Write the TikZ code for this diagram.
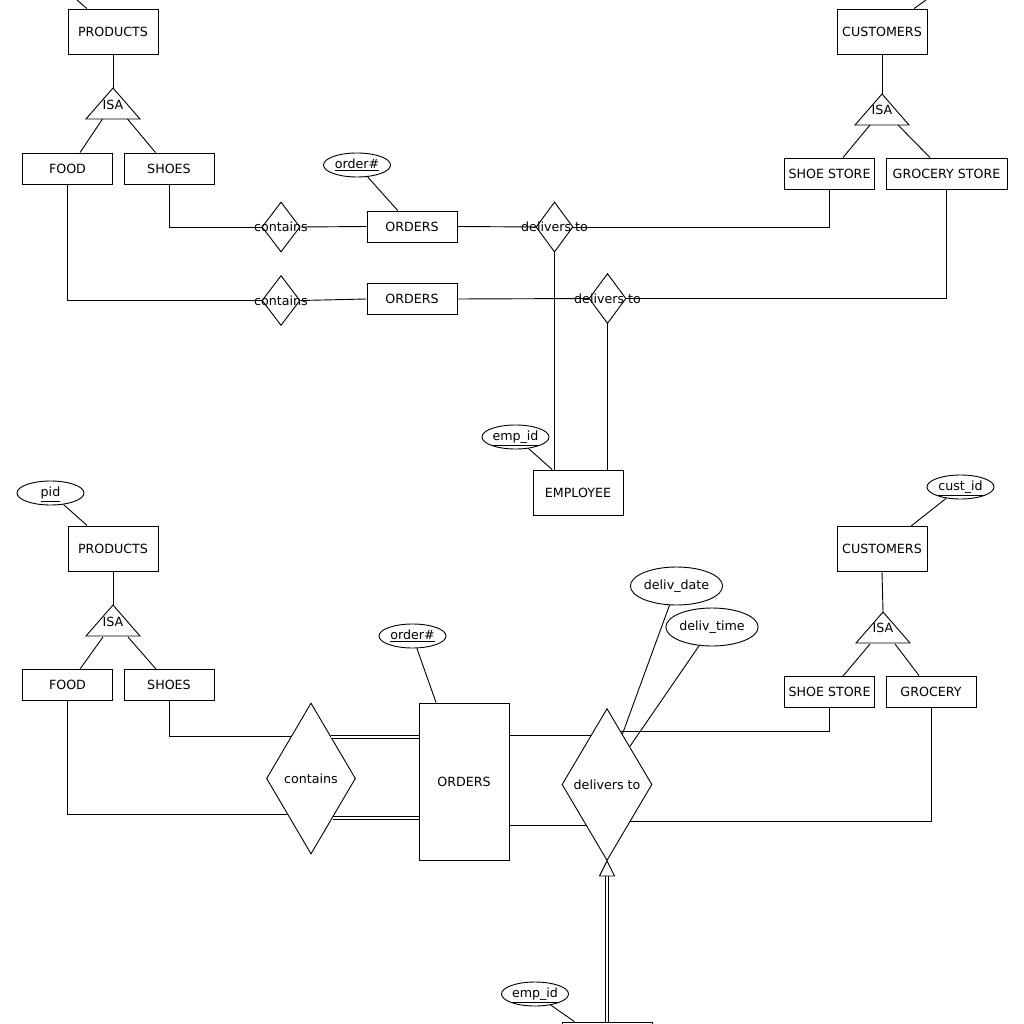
\documentclass[tikz,border=0pt]{standalone}
\usepackage{fontspec}
\setmainfont{DejaVu Sans}
\usetikzlibrary{shapes.geometric,calc}
\begin{document}
\begin{tikzpicture}[x=0.25mm,y=-0.25mm, line width=0.65pt,
  every node/.append style={font=\fontsize{9}{11}\selectfont},
  ent/.style={draw, rectangle, inner sep=0pt, minimum width=22.5mm, minimum height=7.75mm},
  tallbox/.style={minimum height=11.25mm},
  attr/.style={draw, ellipse, inner sep=0pt, minimum width=16.75mm, minimum height=6mm, text height=6.5pt, text depth=1.5pt},
  bigattr/.style={draw, ellipse, inner sep=0pt, minimum width=22.75mm, minimum height=9.5mm},
  smalldia/.style={draw, diamond, inner sep=0pt, minimum width=9.5mm, minimum height=12.5mm},
  bigdia/.style={draw, diamond, inner sep=0pt, minimum width=22.5mm, minimum height=38mm},
  isatext/.style={inner sep=0pt},
  dbl/.style={double, double distance=1.6pt}]
\useasboundingbox (0,0) rectangle (1024,1024);
\clip (0,0) rectangle (1024,1024);

% ---------------- top diagram ----------------
\node[ent,tallbox] (prod1) at (113,31.5) {PRODUCTS};
\node[ent,tallbox] (cust1) at (882,31.5) {CUSTOMERS};
\coordinate (pidcut) at (77,0);
\coordinate (custcut) at (926,0);
\draw (pidcut) -- (prod1);
\draw (custcut) -- (cust1);

\coordinate (isa1t) at (113,88);
\node[isatext] (isa1) at (113,105) {ISA};
\draw (isa1t) -- ++(-27,31) -- ++(54,0) -- cycle;
\node[ent] (food1) at (67.5,168.5) {FOOD};
\node[ent] (shoes1) at (169,168.5) {SHOES};
\draw (prod1.south) -- (isa1t);
\draw ($(isa1t)+(-10.5,31)$) -- ($(food1.north)+(12.5,0)$);
\draw ($(isa1t)+(14.5,31)$) -- ($(shoes1.north)+(-13.5,0)$);

\coordinate (isa2t) at (882,94);
\node[isatext] (isa2) at (882,110) {ISA};
\draw (isa2t) -- ++(-27,31) -- ++(54,0) -- cycle;
\node[ent] (ss1) at (829.5,173.5) {SHOE STORE};
\node[ent, minimum width=30.25mm] (gs1) at (946.5,173.5) {GROCERY STORE};
\draw (cust1.south) -- (isa2t);
\draw ($(isa2t)+(-12,31)$) -- ($(ss1.north)+(13.5,0)$);
\draw ($(isa2t)+(16,31)$) -- ($(gs1.north)+(-16.5,0)$);

\node[attr] (oa1) at (357,165) {\underline{order\#}};
\node[ent] (o1) at (412,226.5) {ORDERS};
\node[smalldia, label={center:contains}] (c1) at (281,227) {};
\node[smalldia, minimum width=9.25mm, label={center:delivers to}] (d1) at (554.5,227) {};
\node[ent] (o2) at (412,299) {ORDERS};
\node[smalldia, label={center:contains}] (c2) at (281,300.5) {};
\node[smalldia, minimum width=9.25mm, label={center:delivers to}] (d2) at (607.5,298.5) {};
\node[ent,tallbox] (emp1) at (578,492.5) {EMPLOYEE};
\node[attr] (ea1) at (515.5,437) {\underline{emp\_id}};

\draw (shoes1.south) |- (c1.west);
\draw (c1.east) -- (o1.west);
\draw (oa1) -- (o1);
\draw (o1.east) -- (d1.west);
\draw (d1.east) -| (ss1.south);
\draw (food1.south) |- (c2.west);
\draw (c2.east) -- (o2.west);
\draw (o2.east) -- (d2.west);
\draw (d2.east) -| (gs1.south);
\draw (d1.south) -- (d1.south |- emp1.north);
\draw (d2.south) -- (d2.south |- emp1.north);
\draw (ea1) -- (emp1);

% ---------------- bottom diagram ----------------
\node[attr] (pid) at (50.5,493) {\underline{pid}};
\node[ent,tallbox] (prod2) at (113,548.5) {PRODUCTS};
\coordinate (isa3t) at (113,605);
\node[isatext] (isa3) at (113,621.5) {ISA};
\draw (isa3t) -- ++(-27,31) -- ++(54,0) -- cycle;
\node[ent] (food2) at (67.5,685) {FOOD};
\node[ent] (shoes2) at (169,685) {SHOES};
\draw (pid) -- (prod2);
\draw (prod2.south) -- (isa3t);
\draw ($(isa3t)+(-10,32)$) -- ($(food2.north)+(12.5,0)$);
\draw ($(isa3t)+(15,32)$) -- ($(shoes2.north)+(-13,0)$);

\node[attr] (cid) at (960.5,487) {\underline{cust\_id}};
\node[ent,tallbox] (cust2) at (882,549) {CUSTOMERS};
\coordinate (isa4t) at (883,612);
\node[isatext] (isa4) at (883,627.5) {ISA};
\draw (isa4t) -- ++(-27,31) -- ++(54,0) -- cycle;
\node[ent] (ss2) at (829.5,692) {SHOE STORE};
\node[ent] (gr2) at (931,691.5) {GROCERY};
\draw (cid) -- (cust2);
\draw (cust2.south) -- (isa4t);
\draw ($(isa4t)+(-13,32)$) -- ($(ss2.north)+(13.5,0)$);
\draw ($(isa4t)+(12,32)$) -- ($(gr2.north)+(-12,0)$);

\node[attr] (oa3) at (412.5,636) {\underline{order\#}};
\node[ent, minimum height=39.25mm] (o3) at (464,781.5) {ORDERS};
\node[bigdia, minimum width=22.25mm, minimum height=37.75mm, label={center:contains}] (c3) at (311,778.5) {};
\node[bigdia, label={center:delivers to}] (d3) at (607,784.5) {};
\node[bigattr] (dd) at (676.5,586) {deliv\_date};
\node[bigattr] (dt) at (712,627) {deliv\_time};
\node[attr] (ea2) at (535,994) {\underline{emp\_id}};
\node[ent,tallbox] (emp2) at (607,1044.5) {};

\draw (shoes2.south) |- (c3.116);
\draw (food2.south) |- (c3.236);
\draw[dbl] (c3.64) -- (c3.64 -| o3.west);
\draw[dbl] (c3.299) -- (c3.299 -| o3.west);
\draw (oa3) -- (o3);
\draw (o3.east |- d3.108) -- (d3.108);
\draw (o3.east |- d3.243) -- (d3.243);
\draw (d3.75) -| (ss2.south);
\draw (d3.302) -| (gr2.south);
\draw (dd) -- (d3.73);
\draw (dt) -- (d3.59);
\draw (ea2) -- (emp2);
\draw[dbl] (emp2.north) -- ($(d3.south)+(0,15)$);
\draw[fill=white] (d3.south) -- ++(-7.5,15) -- ++(15,0) -- cycle;
\end{tikzpicture}
\end{document}
